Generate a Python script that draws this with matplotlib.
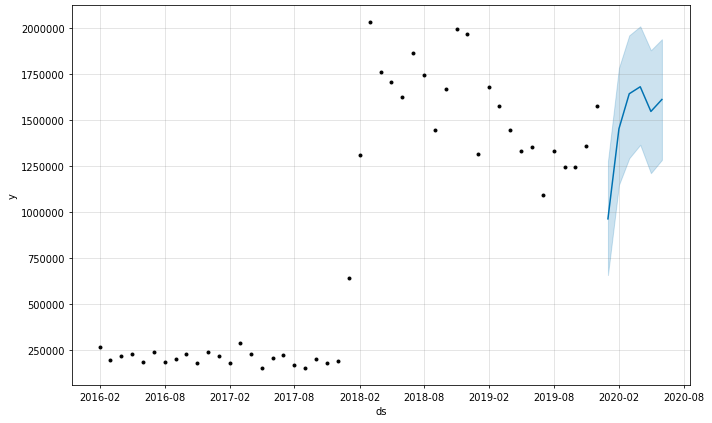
import numpy as np
import pandas as pd
import matplotlib
matplotlib.use("Agg")
import matplotlib.pyplot as plt
import matplotlib.dates as mdates
from matplotlib.ticker import FuncFormatter

# observed monthly values
obs_dates = pd.date_range("2016-02-01", "2019-12-01", freq="MS")
obs_y = [
    270000, 199000, 221000, 232000, 189000, 243000, 189000, 205000, 232000, 183000, 243000, 221000,
    183000, 292000, 232000, 156000, 210000, 227000, 172000, 156000, 205000, 183000, 194000, 641000,
    1308000, 2031000, 1759000, 1705000, 1623000, 1862000, 1743000, 1444000, 1667000, 1993000, 1966000, 1314000,
    1678000, 1574000, 1444000, 1335000, 1352000, 1091000, 1330000, 1243000, 1248000, 1362000, 1574000,
]

# forecast
fc_dates = pd.date_range("2020-01-01", "2020-06-01", freq="MS")
yhat = [964000, 1453000, 1643000, 1681000, 1547000, 1612000]
yhat_lower = [659000, 1148000, 1293000, 1366000, 1212000, 1284000]
yhat_upper = [1276000, 1783000, 1960000, 2009000, 1879000, 1939000]


def main():
    fig = plt.figure(facecolor="w", figsize=(10, 5.955), dpi=71.2)
    ax = fig.add_subplot(111)

    ax.plot(obs_dates, obs_y, "k.")
    ax.plot(fc_dates, yhat, ls="-", c="#0072B2")
    ax.fill_between(fc_dates, yhat_lower, yhat_upper, color="#0072B2", alpha=0.2)

    ax.xaxis.set_major_locator(mdates.MonthLocator(bymonth=[2, 8]))
    ax.xaxis.set_major_formatter(mdates.DateFormatter("%Y-%m"))
    ax.yaxis.set_major_formatter(FuncFormatter(lambda v, p: "%d" % v))
    ax.grid(True, which="major", c="gray", ls="-", lw=1, alpha=0.2)
    ax.set_xlabel("ds")
    ax.set_ylabel("y")
    fig.subplots_adjust(left=72 / 712, right=690 / 712, top=1 - 6 / 424, bottom=1 - 386 / 424)
    fig.savefig("out.png", dpi=71.2)


if __name__ == "__main__":
    main()
